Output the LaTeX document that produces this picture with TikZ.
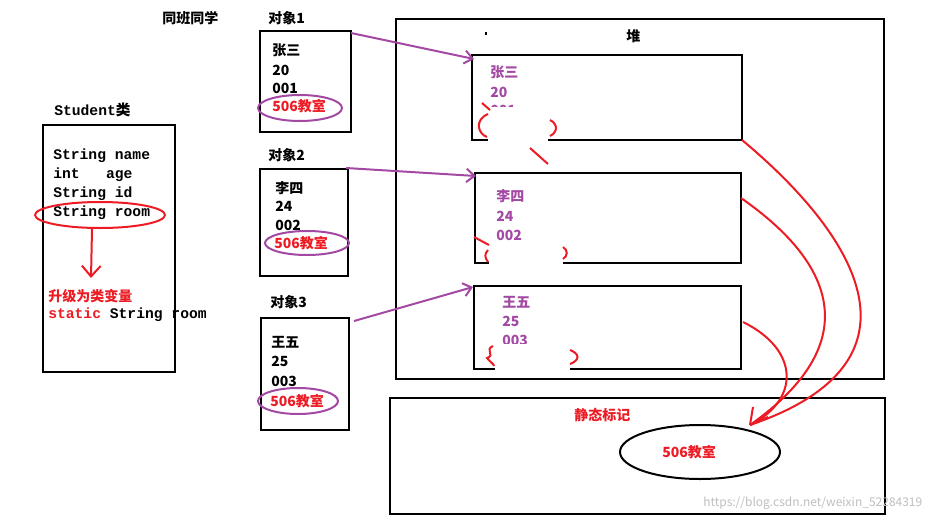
\documentclass[tikz,border=0pt]{standalone}
\usepackage{fontspec}
\setmainfont{Noto Sans CJK SC}
\newfontfamily\cmono{Liberation Mono}
\usetikzlibrary{arrows.meta}
\definecolor{pur}{RGB}{163,73,164}
\definecolor{rd}{RGB}{237,28,36}
\tikzset{
 box/.style={draw=black,line width=1.5pt},
 t/.style={anchor=west,inner sep=0pt,font=\fontsize{10.5}{10.5}\selectfont\bfseries},
 code/.style={anchor=west,inner sep=0pt,font=\fontsize{11}{11}\selectfont\cmono\bfseries},
 pt/.style={t,text=pur},
 parr/.style={draw=pur,line width=1.5pt,-{Straight Barb[length=6pt,width=10pt]}},
 rline/.style={draw=rd,line width=1.5pt},
}
\begin{document}
\begin{tikzpicture}[x=0.75pt,y=-0.75pt]
\useasboundingbox[fill=white] (0,0) rectangle (935,521);
\node[t] (tb) at (162,18) {同班同学};
% Student
\node[code] (sl) at (54,110) {Student\bfseries\fontspec{Noto Sans CJK SC}类};
\draw[box] (43,125) rectangle (175,372);
\node[code] (s1) at (53,156) {String name};
\node[code] (s2) at (53,175) {int\ \ \ age};
\node[code] (s3) at (53,194) {String id};
\node[code] (s4) at (53,213) {String room};
\draw[rline] (100,215) ellipse[x radius=65,y radius=13];
\coordinate (ra) at (92,229);
\coordinate (rb) at (91,278);
\draw[rline,-{Straight Barb[length=8pt,width=14pt]}] (ra) -- (rb);
\node[t,text=rd] (up) at (48,296) {升级为类变量};
\node[code] (st) at (48,315) {\textcolor{rd}{static} String room};
% objects
\node[t] (o1) at (268,18) {对象1};
\draw[box] (260,31) rectangle (351,132);
\node[t] at (272,50) {张三};
\node[t] at (272,70) {20};
\node[t] at (272,88) {001};
\node[t,text=rd] at (272,106) {506教室};
\draw[draw=pur,line width=1.5pt] (300,108) ellipse[x radius=42,y radius=13];
\node[t] (o2) at (268,155) {对象2};
\draw[box] (260,169) rectangle (348,276);
\node[t] at (275,188) {李四};
\node[t] at (275,206) {24};
\node[t] at (275,225) {002};
\node[t,text=rd] at (274,243) {506教室};
\draw[draw=pur,line width=1.5pt] (307,243) ellipse[x radius=42,y radius=12];
\node[t] (o3) at (270,302) {对象3};
\draw[box] (261,318) rectangle (349,430);
\node[t] at (271,342) {王五};
\node[t] at (271,361) {25};
\node[t] at (271,381) {003};
\node[t,text=rd] at (270,401) {506教室};
\draw[draw=pur,line width=1.5pt] (298,401) ellipse[x radius=40,y radius=13];
% heap
\draw[box] (396,19) rectangle (884,379);
\node[t] (heap) at (626,36) {堆};
\fill[black] (485,32) rectangle (487,35);
\draw[box] (488,140) -| (472,55) -| (742,140) -- (548,140);
\node[pt] at (490,72) {张三};
\node[pt] at (490,92) {20};
\begin{scope}\clip (480,100) rectangle (560,106);\node[pt] at (490,110) {001};\end{scope}
\draw[rline] (488,114) .. controls (474,120) and (478,134) .. (487,137);
\draw[rline] (550,120) .. controls (558,124) and (558,132) .. (550,136);
\draw[rline] (482,103) -- (490,110);
\draw[rline] (530,148) -- (548,164);
\draw[box] (489,263) -| (475,173) -| (741,263) -- (563,263);
\node[pt] at (496,196) {李四};
\node[pt] at (496,216) {24};
\node[pt] at (496,235) {002};
\draw[rline] (488,250) .. controls (484,254) and (485,258) .. (488,262);
\draw[rline] (563,247) .. controls (568,250) and (568,256) .. (563,259);
\draw[rline] (474,237) -- (489,245);
\draw[box] (495,369) -| (474,286) -| (741,369) -- (570,369);
\node[pt] at (502,302) {王五};
\node[pt] at (502,321) {25};
\begin{scope}\clip (495,330) rectangle (560,343);\node[pt] at (502,340) {003};\end{scope}
\draw[rline] (493,346) .. controls (484,350) and (496,355) .. (487,358) .. controls (490,362) and (494,364) .. (494,366);
\draw[rline] (570,350) .. controls (580,354) and (580,360) .. (570,364);
% purple arrows
\coordinate (a1) at (474,59);
\coordinate (a2) at (476,176);
\coordinate (a3) at (473,287);
\draw[parr] (351,33) -- (a1);
\draw[parr] (346,168) -- (a2);
\draw[parr] (354,321) -- (a3);
% static
\draw[box] (390,398) rectangle (885,514);
\node[t,text=rd] (sm) at (574,415) {静态标记};
\draw[line width=1.5pt] (700,452) ellipse[x radius=80,y radius=27];
\node[t,text=rd] (sv) at (662,452) {506教室};
% red curves
\coordinate (e) at (750,425);
\draw[rline] (742,140) .. controls (850,230) and (940,360) .. (e);
\draw[rline] (741,198) .. controls (830,260) and (870,340) .. (e);
\draw[rline] (743,322) .. controls (800,350) and (800,400) .. (e);
\draw[rline] (e) -- ++(3,-18);
\draw[rline] (e) -- ++(18,-8);
\node[anchor=east,text=gray!50,font=\fontsize{9}{9}\selectfont] (wm) at (927,503) {https://blog.csdn.net/weixin\_52284319};
\end{tikzpicture}
\end{document}
